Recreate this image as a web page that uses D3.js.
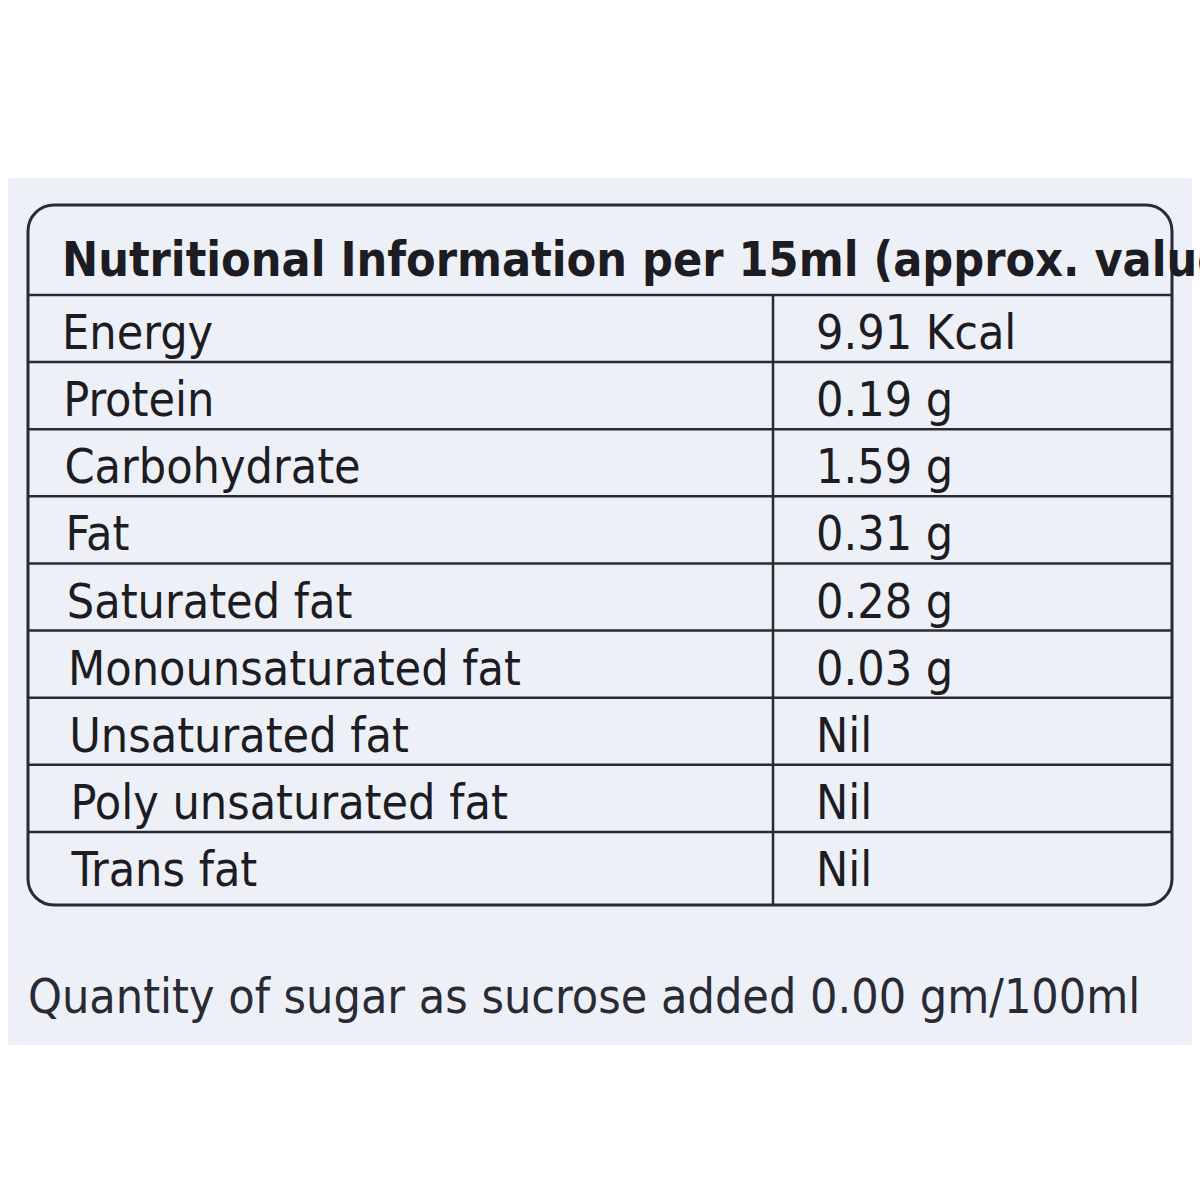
<!DOCTYPE html>
<html>
<head>
<meta charset="utf-8">
<script src="https://cdn.jsdelivr.net/npm/d3@7"></script>
<style>
  body { margin: 0; background: #fff; }
  text { font-family: "Liberation Sans Narrow", "DejaVu Sans Condensed", "Liberation Sans", sans-serif; fill: #1c1c22; }
</style>
</head>
<body>
<div id="label"></div>
<script>
// Table content
const title = 'Nutritional Information per 15ml (approx. value)';
const nutrients = ['Energy', 'Protein', 'Carbohydrate', 'Fat', 'Saturated fat',
    'Monounsaturated fat', 'Unsaturated fat', 'Poly unsaturated fat', 'Trans fat'];
const amounts = ['9.91 Kcal', '0.19 g', '1.59 g', '0.31 g', '0.28 g', '0.03 g', 'Nil', 'Nil', 'Nil'];
const footnote = 'Quantity of sugar as sucrose added 0.00 gm/100ml';

const width = 1200, height = 1200;
const svg = d3.select('#label').append('svg')
    .attr('width', width)
    .attr('height', height);

// Panel background
svg.append('rect')
    .attr('x', 8).attr('y', 178)
    .attr('width', 1184).attr('height', 867)
    .attr('fill', '#eef0f8');

// Table frame
const box = { x: 28, y: 205, w: 1144, h: 700, header: 90 };
const colX = 773;

svg.append('rect')
    .attr('x', box.x).attr('y', box.y)
    .attr('width', box.w).attr('height', box.h)
    .attr('rx', 26)
    .attr('fill', 'none')
    .attr('stroke', '#2a2a30')
    .attr('stroke-width', 3);

// Rows laid out with a band scale
const y = d3.scaleBand()
    .domain(nutrients)
    .range([box.y + box.header, box.y + box.h - 6]);

// Header
svg.append('text')
    .attr('x', 62).attr('y', 276)
    .style('font-size', '48px')
    .style('font-weight', 'bold')
    .text(title);

// Horizontal lines between rows
svg.selectAll('.row-line')
    .data(nutrients)
    .enter().append('line')
    .attr('class', 'row-line')
    .attr('x1', box.x).attr('x2', box.x + box.w)
    .attr('y1', d => y(d))
    .attr('y2', d => y(d))
    .attr('stroke', '#2a2a30')
    .attr('stroke-width', 2.5);

// Column divider
svg.append('line')
    .attr('x1', colX).attr('x2', colX)
    .attr('y1', box.y + box.header)
    .attr('y2', box.y + box.h)
    .attr('stroke', '#2a2a30')
    .attr('stroke-width', 2.5);

// Nutrient names
svg.selectAll('.name')
    .data(nutrients)
    .enter().append('text')
    .attr('class', 'name')
    .attr('x', (d, i) => 62 + i * 1.2)
    .attr('y', d => y(d) + y.bandwidth() - 13)
    .style('font-size', '48px')
    .text(d => d);

// Amounts
svg.selectAll('.amount')
    .data(amounts)
    .enter().append('text')
    .attr('class', 'amount')
    .attr('x', 816)
    .attr('y', (d, i) => y(nutrients[i]) + y.bandwidth() - 13)
    .style('font-size', '48px')
    .text(d => d);

// Footnote
svg.append('text')
    .attr('x', 28).attr('y', 1013)
    .style('font-size', '48px')
    .style('fill', '#2a2a33')
    .text(footnote);
</script>
</body>
</html>
